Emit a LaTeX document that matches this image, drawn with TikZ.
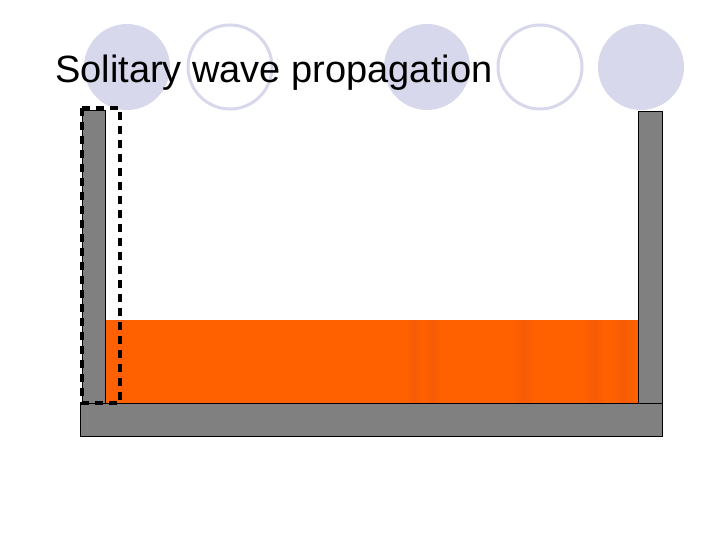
\documentclass[tikz,border=0pt]{standalone}
\usepackage{fontspec}
\setmainfont{Liberation Sans}
\usepackage{xcolor}
\usepackage{tikz}
\usetikzlibrary{positioning}

\definecolor{bubble}{RGB}{216,216,236}
\definecolor{wallgray}{RGB}{128,128,128}
\definecolor{water}{RGB}{255,96,0}
\definecolor{waterdark}{RGB}{246,92,6}

\tikzset{
    filledbubble/.style={fill=bubble, draw=none},
    openbubble/.style={draw=bubble, line width=3pt, fill=white},
    wall/.style={fill=wallgray, draw=black, line width=0.8pt},
    stripe/.style={left color=water, right color=water, middle color=waterdark},
    gate/.style={draw=black, line width=3.5pt, dash pattern=on 8pt off 6pt}
}

\begin{document}
\begin{tikzpicture}[x=1pt, y=-1pt]
        \useasboundingbox (0,0) rectangle (720,540);

        % Decorative circles
        \fill[filledbubble] (127,67) circle (43);
        \draw[openbubble] (230,67) circle (42);
        \fill[filledbubble] (427,67) circle (43);
        \draw[openbubble] (540,67) circle (42);
        \fill[filledbubble] (641,67) circle (43);

        % Title
        \node[anchor=base west, inner sep=0pt, font=\fontsize{38}{44}\selectfont] (title) at (55,83) {Solitary wave propagation};

        % Water
        \fill[water] (105,320) rectangle (638,403);
        \foreach \xa/\xb in {406/422, 424/440, 514/534, 584/604, 612/634}
            \shade[stripe] (\xa,320) rectangle (\xb,403);

        % Tank walls and base
        \draw[wall] (82,110) rectangle (105,403);
        \draw[wall] (638,111) rectangle (662,403);
        \draw[wall] (80,403) rectangle (662,436);

        % Gate
        \draw[gate] (82,108) rectangle (120,403);
    \end{tikzpicture}
\end{document}
